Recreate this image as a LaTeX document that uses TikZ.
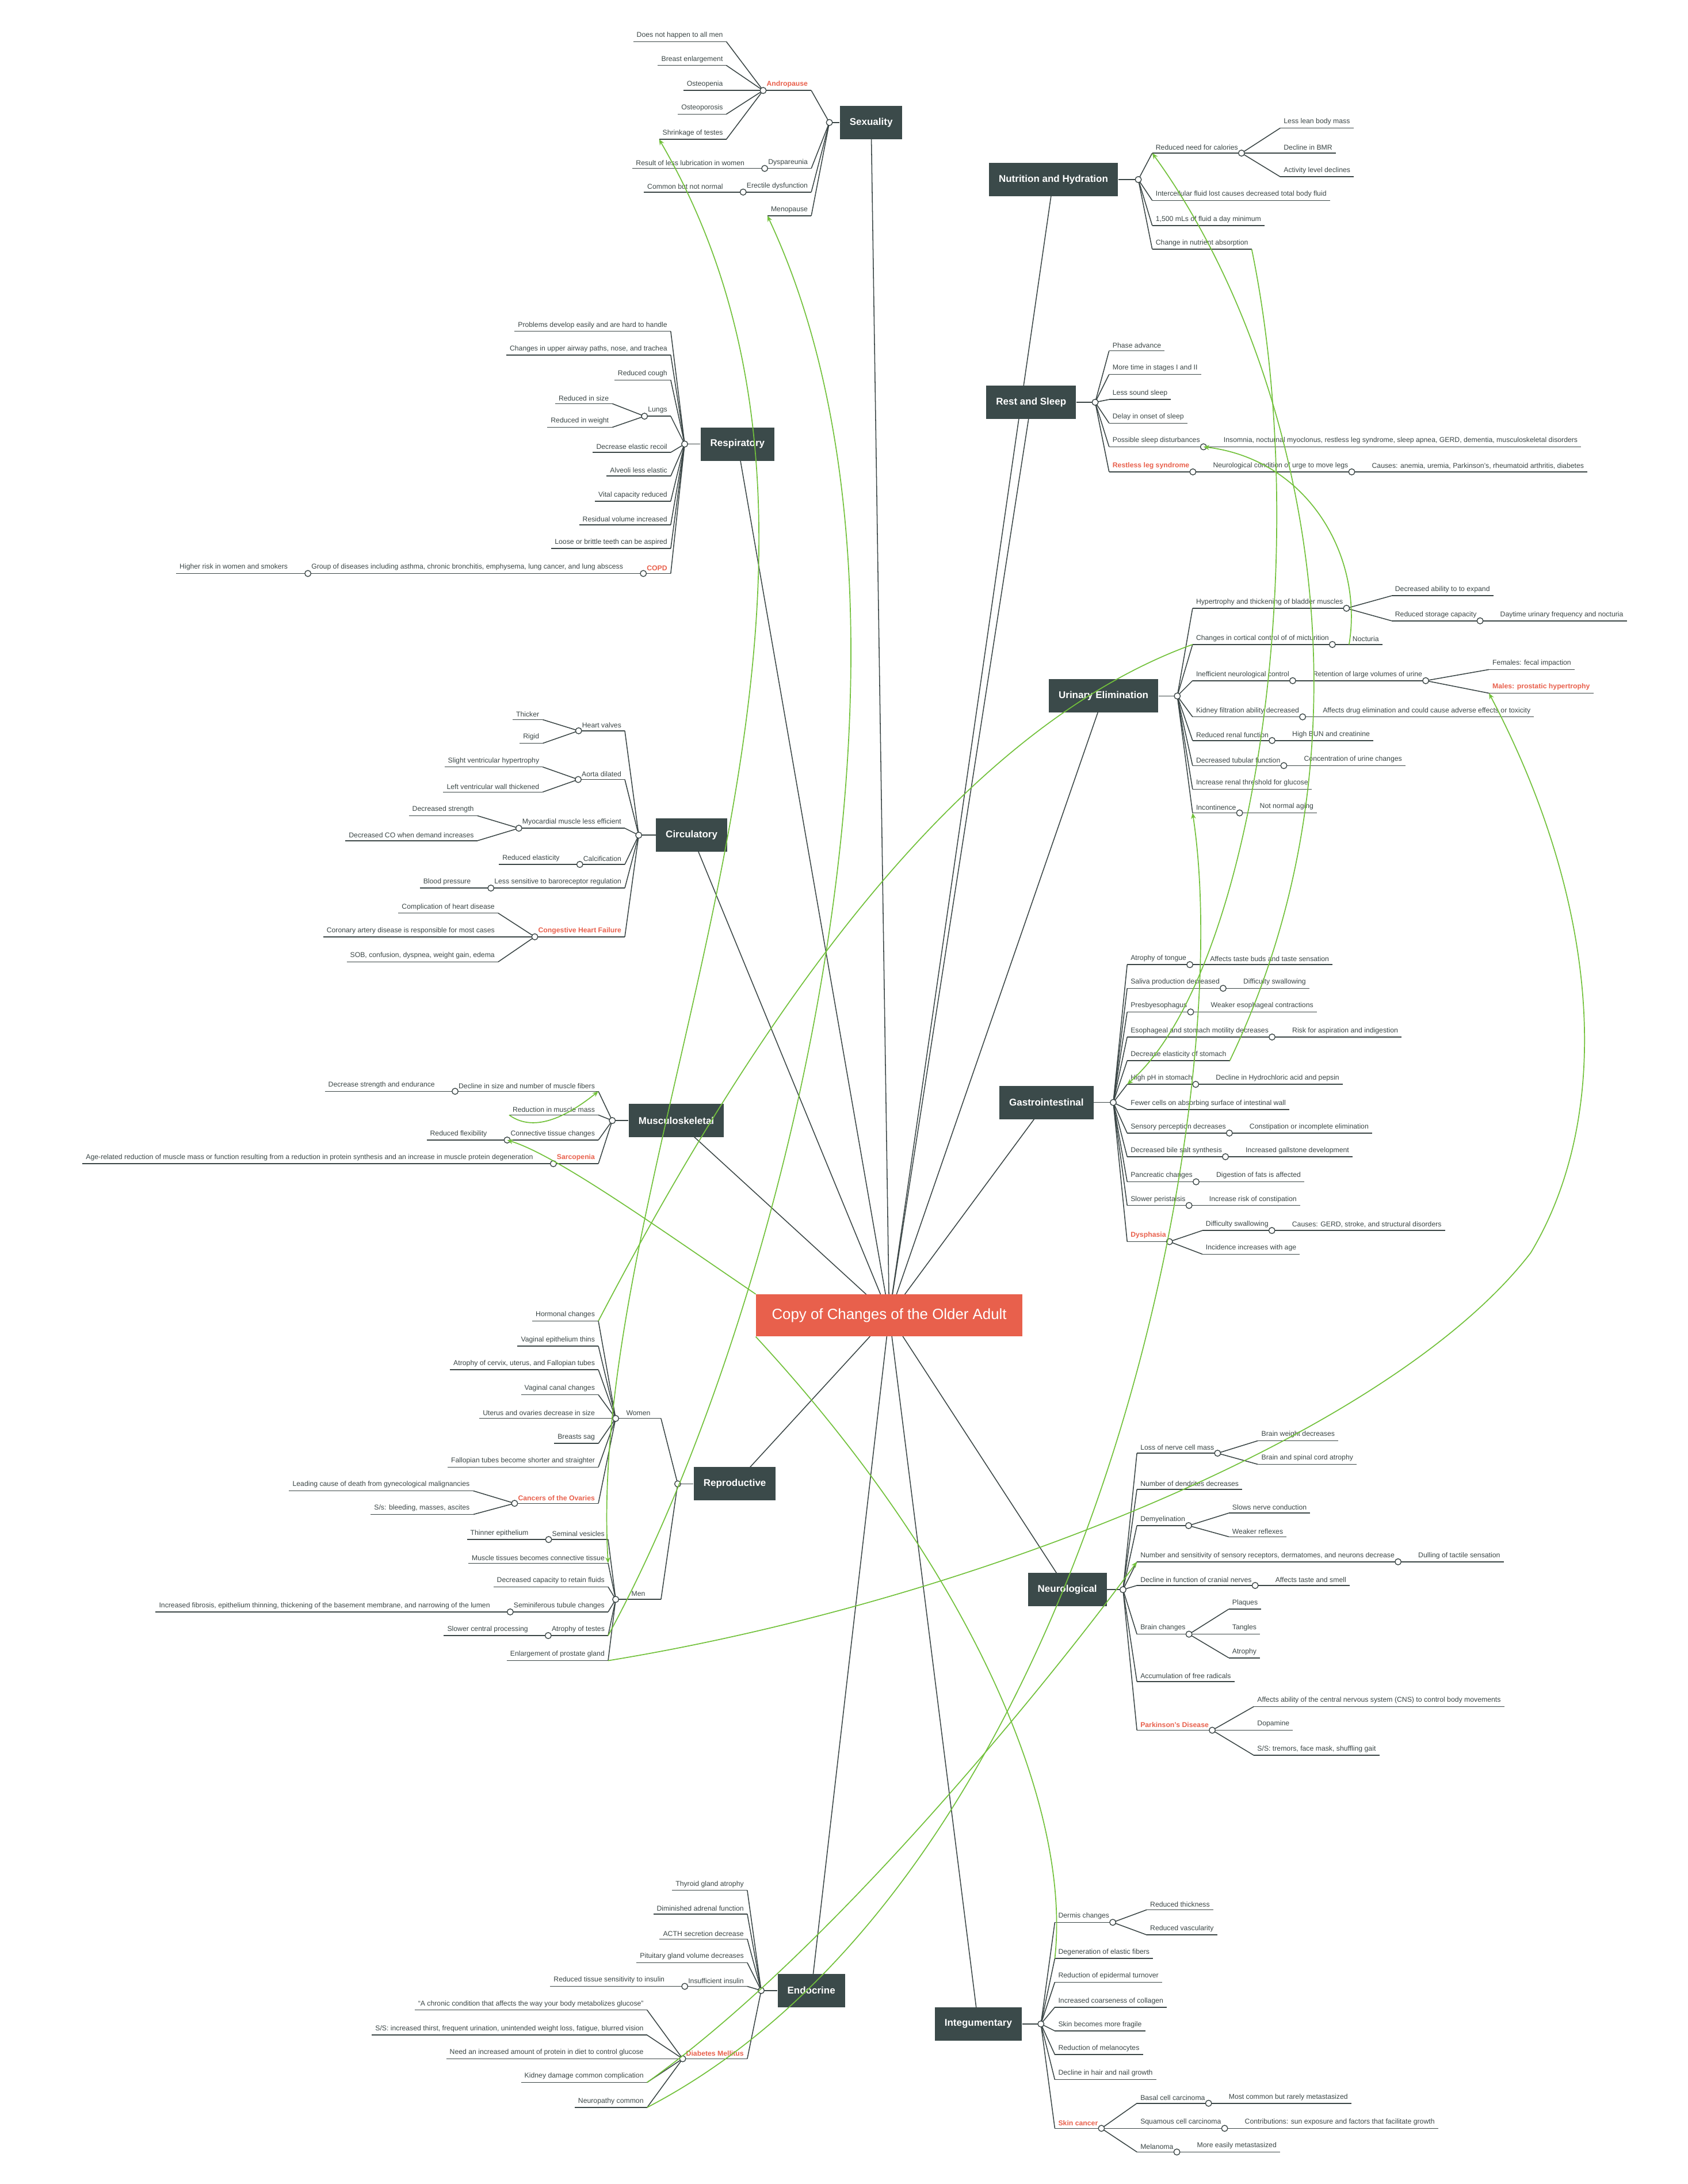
\documentclass[tikz,border=0pt]{standalone}
\usepackage{fontspec}
\setmainfont{Liberation Sans}
\usetikzlibrary{backgrounds,calc,arrows.meta}
\definecolor{topicgray}{HTML}{3B4A4A}
\definecolor{linegray}{HTML}{3A4545}
\definecolor{centralred}{HTML}{E8604C}
\definecolor{relgreen}{HTML}{72C13B}
\newcommand{\hotspot}[1]{\textcolor{centralred}{\bfseries #1}}
\tikzset{
  leaf/.style={font=\fontsize{3.6}{4}\selectfont, inner xsep=1.6pt, inner ysep=1.3pt, text=linegray,
    append after command={(\tikzlastnode.south west) edge[linegray, line width=0.45pt] (\tikzlastnode.south east)}},
  rc/.style={leaf, anchor=south west},
  lc/.style={leaf, anchor=south east},
  topic/.style={fill=topicgray, text=white, font=\fontsize{5}{6}\selectfont\bfseries, inner xsep=5pt, minimum height=0.6cm},
  central/.style={fill=centralred, text=white, font=\fontsize{7.6}{9}\selectfont, minimum width=4.78cm, minimum height=0.75cm},
  jc/.style={circle, draw=linegray, fill=white, line width=0.4pt, inner sep=0pt, minimum size=0.11cm},
  link/.style={linegray, line width=0.45pt},
  relline/.style={relgreen, line width=0.5pt},
  rel/.style={relline, -{Stealth[length=3pt,width=2.5pt]}},
}
\begin{document}
\begin{tikzpicture}[x=0.025cm, y=-0.025cm]
  \useasboundingbox (0,0) rectangle (1213,1569);

  % centre and main topics
  \node[central] (cc) at (639,945) {Copy of Changes of the Older Adult};
  \node[topic] (sx) at (626,88) {Sexuality};
  \node[topic] (nh) at (757,129) {Nutrition and Hydration};
  \node[topic] (re) at (530,319) {Respiratory};
  \node[topic] (rs) at (741,289) {Rest and Sleep};
  \node[topic] (ue) at (793,500) {Urinary Elimination};
  \node[topic] (ci) at (497,600) {Circulatory};
  \node[topic] (gi) at (752,792) {Gastrointestinal};
  \node[topic] (ms) at (486,805) {Musculoskeletal};
  \node[topic] (rp) at (528,1066) {Reproductive};
  \node[topic] (ne) at (767,1142) {Neurological};
  \node[topic] (en) at (583,1430) {Endocrine};
  \node[topic] (ig) at (703,1454) {Integumentary};
  \begin{scope}[on background layer]
    \foreach \t in {sx,nh,re,rs,ue,ci,gi,ms,rp,ne,en,ig}
      \draw[link] (cc.center) -- (\t.center);
  \end{scope}

  % Sexuality
  \coordinate (sxj) at (596,88);
  \draw[link] (sx.west) -- (sxj);
  \foreach \y/\t [count=\i] in {65/{\hotspot{Andropause}},121/{Dyspareunia},138/{Erectile dysfunction},155/{Menopause}}
    {\node[lc] (sx\i) at (583,\y) {\t}; \draw[link] (sxj) -- (sx\i.south east);}
  \foreach \y/\t [count=\i] in {30/{Does not happen to all men},47/{Breast enlargement},65/{Osteopenia},82/{Osteoporosis},100/{Shrinkage of testes}}
    {\node[lc] (an\i) at (522,\y) {\t}; \draw[link] (sx1.south west) -- (an\i.south east);}
  \node[jc] at (sx1.south west) {};
  \node[jc] at (sxj) {};

  % Nutrition and Hydration
  \coordinate (nhj) at (818,129);
  \draw[link] (nh.east) -- (nhj);
  \foreach \y/\t [count=\i] in {110/{Reduced need for calories},144/{Intercellular fluid lost causes decreased total body fluid},162/{1,500 mLs of fluid a day minimum},179/{Change in nutrient absorption}}
    {\node[rc] (nh\i) at (828,\y) {\t}; \draw[link] (nhj) -- (nh\i.south west);}
  \foreach \y/\t [count=\i] in {92/{Less lean body mass},110/{Decline in BMR},127/{Activity level declines}}
    {\node[rc] (nhc\i) at (920,\y) {\t}; \draw[link] (nh1.south east) -- (nhc\i.south west);}
  \node[jc] at (nh1.south east) {};
  \node[jc] at (nhj) {};

  % Rest and Sleep
  \coordinate (rsj) at (787,289);
  \draw[link] (rs.east) -- (rsj);
  \foreach \y/\t [count=\i] in {252/{Phase advance},269/{More time in stages I and II},287/{Less sound sleep},304/{Delay in onset of sleep},321/{Possible sleep disturbances},339/{\hotspot{Restless leg syndrome}}}
    {\node[rc] (rs\i) at (797,\y) {\t}; \draw[link] (rsj) -- (rs\i.south west);}
  \node[jc] at (rsj) {};

  % Respiratory
  \coordinate (rej) at (492,319);
  \draw[link] (re.west) -- (rej);
  \foreach \y/\t [count=\i] in {238/{Problems develop easily and are hard to handle},255/{Changes in upper airway paths, nose, and trachea},273/{Reduced cough},299/{Lungs},325/{Decrease elastic recoil},342/{Alveoli less elastic},360/{Vital capacity reduced},377/{Residual volume increased},394/{Loose or brittle teeth can be aspired},412/{\hotspot{COPD}}}
    {\node[lc] (re\i) at (482,\y) {\t}; \draw[link] (rej) -- (re\i.south east);}
  \foreach \y/\t [count=\i] in {290/{Reduced in size},307/{Reduced in weight}}
    {\node[lc] (lu\i) at (440,\y) {\t}; \draw[link] (re4.south west) -- (lu\i.south east);}
  \node[jc] at (re4.south west) {};
  \node[jc] at (rej) {};

  % Urinary Elimination
  \coordinate (uej) at (846,500);
  \draw[link] (ue.east) -- (uej);
  \foreach \y/\t [count=\i] in {437/{Hypertrophy and thickening of bladder muscles},463/{Changes in cortical control of of micturition},489/{Inefficient neurological control},515/{Kidney filtration ability decreased},532/{Reduced renal function},550/{Decreased tubular function},567/{Increase renal threshold for glucose},584/{Incontinence}}
    {\node[rc] (ue\i) at (857,\y) {\t}; \draw[link] (uej) -- (ue\i.south west);}
  \foreach \y/\t [count=\i] in {428/{Decreased ability to to expand},446/{Reduced storage capacity}}
    {\node[rc] (uec\i) at (1000,\y) {\t}; \draw[link] (ue1.south east) -- (uec\i.south west);}
  \node[jc] at (ue1.south east) {};
  \node[jc] at (uej) {};

  % Circulatory
  \coordinate (cij) at (459,600);
  \draw[link] (ci.west) -- (cij);
  \foreach \y/\t [count=\i] in {525/{Heart valves},560/{Aorta dilated},595/{Myocardial muscle less efficient},621/{Calcification},638/{Less sensitive to baroreceptor regulation},673/{\hotspot{Congestive Heart Failure}}}
    {\node[lc] (ci\i) at (449,\y) {\t}; \draw[link] (cij) -- (ci\i.south east);}
  \foreach \y/\t [count=\i] in {517/{Thicker},534/{Rigid}}
    {\node[lc] (hv\i) at (390,\y) {\t}; \draw[link] (ci1.south west) -- (hv\i.south east);}
  \foreach \y/\t [count=\i] in {551/{Slight ventricular hypertrophy},569/{Left ventricular wall thickened}}
    {\node[lc] (ad\i) at (390,\y) {\t}; \draw[link] (ci2.south west) -- (ad\i.south east);}
  \foreach \y/\t [count=\i] in {586/{Decreased strength},604/{Decreased CO when demand increases}}
    {\node[lc] (mm\i) at (343,\y) {\t}; \draw[link] (ci3.south west) -- (mm\i.south east);}
  \foreach \y/\t [count=\i] in {656/{Complication of heart disease},673/{Coronary artery disease is responsible for most cases},691/{SOB, confusion, dyspnea, weight gain, edema}}
    {\node[lc] (hf\i) at (358,\y) {\t}; \draw[link] (ci6.south west) -- (hf\i.south east);}
  \foreach \p in {ci1,ci2,ci3,ci6} \node[jc] at (\p.south west) {};
  \node[jc] at (cij) {};

  % Gastrointestinal
  \coordinate (gij) at (800,792);
  \draw[link] (gi.east) -- (gij);
  \foreach \y/\t [count=\i] in {693/{Atrophy of tongue},710/{Saliva production decreased},727/{Presbyesophagus},745/{Esophageal and stomach motility decreases},762/{Decrease elasticity of stomach},779/{High pH in stomach},797/{Fewer cells on absorbing surface of intestinal wall},814/{Sensory perception decreases},831/{Decreased bile salt synthesis},849/{Pancreatic changes},866/{Slower peristalsis},892/{\hotspot{Dysphasia}}}
    {\node[rc] (gi\i) at (810,\y) {\t}; \draw[link] (gij) -- (gi\i.south west);}
  \foreach \y/\t [count=\i] in {884/{Difficulty swallowing},901/{Incidence increases with age}}
    {\node[rc] (dp\i) at (864,\y) {\t}; \draw[link] (gi12.south east) -- (dp\i.south west);}
  \node[jc] at (gi12.south east) {};
  \node[jc] at (gij) {};

  % Musculoskeletal
  \coordinate (msj) at (440,805);
  \draw[link] (ms.west) -- (msj);
  \foreach \y/\t [count=\i] in {784/{Decline in size and number of muscle fibers},801/{Reduction in muscle mass},819/{Connective tissue changes},836/{\hotspot{Sarcopenia}}}
    {\node[lc] (ms\i) at (430,\y) {\t}; \draw[link] (msj) -- (ms\i.south east);}
  \node[jc] at (msj) {};

  % Reproductive
  \coordinate (rpj) at (487,1066);
  \draw[link] (rp.west) -- (rpj);
  \foreach \y/\t [count=\i] in {1019/{Women},1149/{Men}}
    {\node[lc, minimum width=0.8cm] (rp\i) at (475,\y) {\t}; \draw[link] (rpj) -- (rp\i.south east);}
  \foreach \y/\t [count=\i] in {949/{Hormonal changes},967/{Vaginal epithelium thins},984/{Atrophy of cervix, uterus, and Fallopian tubes},1002/{Vaginal canal changes},1019/{Uterus and ovaries decrease in size},1037/{Breasts sag},1054/{Fallopian tubes become shorter and straighter},1080/{\hotspot{Cancers of the Ovaries}}}
    {\node[lc] (wa\i) at (430,\y) {\t}; \draw[link] (rp1.south west) -- (wa\i.south east);}
  \foreach \y/\t [count=\i] in {1071/{Leading cause of death from gynecological malignancies},1088/{S/s: bleeding, masses, ascites}}
    {\node[lc] (ov\i) at (340,\y) {\t}; \draw[link] (wa8.south west) -- (ov\i.south east);}
  \foreach \y/\t [count=\i] in {1106/{Seminal vesicles},1123/{Muscle tissues becomes connective tissue},1140/{Decreased capacity to retain fluids},1158/{Seminiferous tubule changes},1175/{Atrophy of testes},1193/{Enlargement of prostate gland}}
    {\node[lc] (me\i) at (437,\y) {\t}; \draw[link] (rp2.south west) -- (me\i.south east);}
  \foreach \p in {rp1,rp2,wa8} \node[jc] at (\p.south west) {};
  \node[jc] at (rpj) {};

  % Neurological
  \coordinate (nej) at (807,1142);
  \draw[link] (ne.east) -- (nej);
  \foreach \y/\t [count=\i] in {1044/{Loss of nerve cell mass},1070/{Number of dendrites decreases},1096/{Demyelination},1122/{Number and sensitivity of sensory receptors, dermatomes, and neurons decrease},1139/{Decline in function of cranial nerves},1174/{Brain changes},1208/{Accumulation of free radicals},1243/{\hotspot{Parkinson's Disease}}}
    {\node[rc] (ne\i) at (817,\y) {\t}; \draw[link] (nej) -- (ne\i.south west);}
  \foreach \y/\t [count=\i] in {1035/{Brain weight decreases},1052/{Brain and spinal cord atrophy}}
    {\node[rc] (nm\i) at (904,\y) {\t}; \draw[link] (ne1.south east) -- (nm\i.south west);}
  \foreach \y/\t [count=\i] in {1087/{Slows nerve conduction},1104/{Weaker reflexes}}
    {\node[rc] (dm\i) at (883,\y) {\t}; \draw[link] (ne3.south east) -- (dm\i.south west);}
  \foreach \y/\t [count=\i] in {1156/{Plaques},1174/{Tangles},1191/{Atrophy}}
    {\node[rc] (bc\i) at (883,\y) {\t}; \draw[link] (ne6.south east) -- (bc\i.south west);}
  \foreach \y/\t [count=\i] in {1226/{Affects ability of the central nervous system (CNS) to control body movements},1243/{Dopamine},1261/{S/S: tremors, face mask, shuffling gait}}
    {\node[rc] (pd\i) at (901,\y) {\t}; \draw[link] (ne8.south east) -- (pd\i.south west);}
  \foreach \p in {ne1,ne3,ne6,ne8} \node[jc] at (\p.south east) {};
  \node[jc] at (nej) {};

  % Endocrine
  \coordinate (enj) at (547,1430);
  \draw[link] (en.west) -- (enj);
  \foreach \y/\t [count=\i] in {1358/{Thyroid gland atrophy},1375/{Diminished adrenal function},1393/{ACTH secretion decrease},1410/{Pituitary gland volume decreases},1427/{Insufficient insulin},1479/{\hotspot{Diabetes Mellitus}}}
    {\node[lc] (en\i) at (537,\y) {\t}; \draw[link] (enj) -- (en\i.south east);}
  \foreach \y/\t [count=\i] in {1444/{``A chronic condition that affects the way your body metabolizes glucose''},1462/{S/S: increased thirst, frequent urination, unintended weight loss, fatigue, blurred vision},1479/{Need an increased amount of protein in diet to control glucose},1496/{Kidney damage common complication},1514/{Neuropathy common}}
    {\node[lc] (dmx\i) at (465,\y) {\t}; \draw[link] (en6.south west) -- (dmx\i.south east);}
  \node[jc] at (en6.south west) {};
  \node[jc] at (enj) {};

  % Integumentary
  \coordinate (igj) at (748,1454);
  \draw[link] (ig.east) -- (igj);
  \foreach \y/\t [count=\i] in {1381/{Dermis changes},1407/{Degeneration of elastic fibers},1424/{Reduction of epidermal turnover},1442/{Increased coarseness of collagen},1459/{Skin becomes more fragile},1476/{Reduction of melanocytes},1494/{Decline in hair and nail growth},1529/{\hotspot{Skin cancer}}}
    {\node[rc] (ig\i) at (758,\y) {\t}; \draw[link] (igj) -- (ig\i.south west);}
  \foreach \y/\t [count=\i] in {1372/{Reduced thickness},1390/{Reduced vascularity}}
    {\node[rc] (dc\i) at (824,\y) {\t}; \draw[link] (ig1.south east) -- (dc\i.south west);}
  \foreach \y/\t [count=\i] in {1511/{Basal cell carcinoma},1529/{Squamous cell carcinoma},1546/{Melanoma}}
    {\node[rc] (sk\i) at (817,\y) {\t}; \draw[link] (ig8.south east) -- (sk\i.south west);}
  \foreach \p in {ig1,ig8} \node[jc] at (\p.south east) {};
  \node[jc] at (igj) {};

  % single follow-ups, right side
  \foreach \p/\t in {rs5/{Insomnia, nocturnal myoclonus, restless leg syndrome, sleep apnea, GERD, dementia, musculoskeletal disorders},rs6/{Neurological condition of urge to move legs},rs6-s/{Causes: anemia, uremia, Parkinson's, rheumatoid arthritis, diabetes},uec2/{Daytime urinary frequency and nocturia},ue2/{Nocturia},ue3/{Retention of large volumes of urine},ue4/{Affects drug elimination and could cause adverse effects or toxicity},ue5/{High BUN and creatinine},ue6/{Concentration of urine changes},ue8/{Not normal aging},gi1/{Affects taste buds and taste sensation},gi2/{Difficulty swallowing},gi3/{Weaker esophageal contractions},gi4/{Risk for aspiration and indigestion},gi6/{Decline in Hydrochloric acid and pepsin},gi8/{Constipation or incomplete elimination},gi9/{Increased gallstone development},gi10/{Digestion of fats is affected},gi11/{Increase risk of constipation},dp1/{Causes: GERD, stroke, and structural disorders},ne4/{Dulling of tactile sensation},ne5/{Affects taste and smell},sk1/{Most common but rarely metastasized},sk2/{Contributions: sun exposure and factors that facilitate growth},sk3/{More easily metastasized}}
    {\node[rc] (\p-s) at ($(\p.south east)+(12,0)$) {\t};
     \draw[link] (\p.south east) -- (\p-s.south west);
     \node[jc] at (\p.south east) {};}
  \foreach \y/\t [count=\i] in {481/{Females: fecal impaction},498/{\hotspot{Males: prostatic hypertrophy}}}
    {\node[rc] (rt\i) at (1070,\y) {\t}; \draw[link] (ue3-s.south east) -- (rt\i.south west);}
  \node[jc] at (ue3-s.south east) {};

  % single follow-ups, left side
  \foreach \p/\t in {sx2/{Result of less lubrication in women},sx3/{Common but not normal},re10/{Group of diseases including asthma, chronic bronchitis, emphysema, lung cancer, and lung abscess},re10-s/{Higher risk in women and smokers},ci4/{Reduced elasticity},ci5/{Blood pressure},ms1/{Decrease strength and endurance},ms3/{Reduced flexibility},ms4/{Age-related reduction of muscle mass or function resulting from a reduction in protein synthesis and an increase in muscle protein degeneration},me1/{Thinner epithelium},me4/{Increased fibrosis, epithelium thinning, thickening of the basement membrane, and narrowing of the lumen},me5/{Slower central processing},en5/{Reduced tissue sensitivity to insulin}}
    {\node[lc] (\p-s) at ($(\p.south west)+(-12,0)$) {\t};
     \draw[link] (\p.south west) -- (\p-s.south east);
     \node[jc] at (\p.south west) {};}

  % relationships
  \draw[rel, {Stealth[length=3pt,width=2.5pt]}-{Stealth[length=3pt,width=2.5pt]}] (an5.south west) .. controls (660,420) and (420,830) .. (me2.south east);
  \draw[rel] (me5.south east) .. controls (560,950) and (690,450) .. (sx4.south west);
  \draw[relline] (wa1.south east) .. controls (560,700) and (700,520) .. (ue2.south west);
  \draw[rel] (ms2.south west) .. controls (385,815) and (410,800) .. (ms1.south east);
  \draw[rel] (cc.north west) .. controls (470,880) and (400,830) .. (ms3.south west);
  \draw[relline] (cc.south west) .. controls (700,1130) and (770,1300) .. (ig2.south west);
  \draw[rel] (nh4.south east) .. controls (945,400) and (900,700) .. (gi6.south west);
  \draw[rel] (gi5.south east) .. controls (1000,520) and (930,250) .. (nh1.south west);
  \draw[rel] (ue2-s.south west) .. controls (980,400) and (940,330) .. (rs5.south east);
  \draw[rel] (me6.south east) .. controls (700,1150) and (1000,1030) .. (1100,900)
    .. controls (1160,800) and (1150,650) .. (rt2.south west);
  \draw[rel] (dmx4.south east) .. controls (600,1400) and (760,1200) .. (ne4.south west);
  \draw[rel] (dmx5.south east) .. controls (780,1350) and (890,800) .. (ue8.south west);
\end{tikzpicture}
\end{document}
